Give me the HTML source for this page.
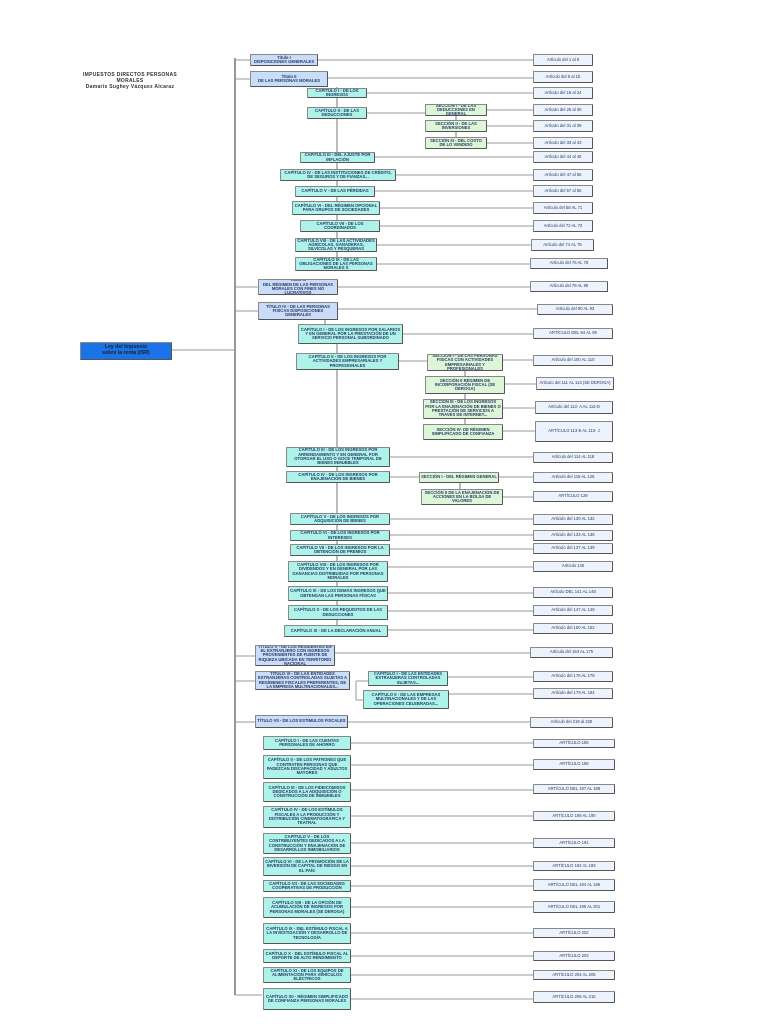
<!DOCTYPE html>
<html><head><meta charset="utf-8"><style>
html,body{margin:0;padding:0;background:#fff;width:768px;height:1024px;overflow:hidden}
body{position:relative;font-family:"Liberation Sans",sans-serif}
.b{position:absolute;box-sizing:border-box;display:flex;align-items:center;justify-content:center;text-align:center;font-size:4.2px;line-height:4.3px;font-weight:bold;color:#2a3a66;border:1px solid #888;border-right-color:#555;border-bottom-color:#555;border-radius:1px;overflow:hidden;padding:0 1px;letter-spacing:0}
.t{background:#c9dcf8}
.c{background:#aef3ea}
.s{background:#def6d8}
.a{background:#edf3fc;font-weight:normal}
.r{background:#1a73e8;color:#222;font-size:5.2px;line-height:5.6px}
svg{position:absolute;left:0;top:0}
.h{position:absolute;font-size:5px;font-weight:bold;color:#333;text-align:center;letter-spacing:0.3px}
</style></head><body>
<svg width="768" height="1024" stroke="#999" stroke-width="1" fill="none">
<line x1="235" y1="58" x2="235" y2="995" stroke="#777" stroke-width="1.5"/>
<line x1="172" y1="350" x2="235" y2="350"/>
<line x1="235" y1="60" x2="250" y2="60"/><line x1="235" y1="79" x2="250" y2="79"/>
<line x1="235" y1="287" x2="258" y2="287"/><line x1="235" y1="311" x2="258" y2="311"/>
<line x1="235" y1="656" x2="255" y2="656"/><line x1="235" y1="681" x2="255" y2="681"/>
<line x1="235" y1="722" x2="255" y2="722"/><line x1="235" y1="995" x2="262" y2="995"/>
<line x1="337" y1="87" x2="337" y2="264" stroke="#777"/>
<line x1="456" y1="110" x2="456" y2="143" stroke="#777"/>
<line x1="325" y1="320" x2="325" y2="328" stroke="#777"/>
<line x1="337" y1="344" x2="337" y2="632" stroke="#777"/>
<line x1="465" y1="362" x2="465" y2="432" stroke="#777"/>
<line x1="460" y1="478" x2="460" y2="497" stroke="#777"/>
<line x1="356" y1="681" x2="368" y2="681"/><line x1="356" y1="681" x2="356" y2="700"/><line x1="356" y1="700" x2="363" y2="700"/>
<line x1="318" y1="60" x2="533" y2="60"/><line x1="328" y1="78" x2="533" y2="78"/>
<line x1="367" y1="93" x2="533" y2="93"/><line x1="367" y1="113" x2="425" y2="113"/>
<line x1="487" y1="110" x2="533" y2="110"/><line x1="487" y1="126" x2="533" y2="126"/><line x1="487" y1="143" x2="533" y2="143"/>
<line x1="375" y1="157" x2="533" y2="157"/><line x1="396" y1="175" x2="533" y2="175"/>
<line x1="375" y1="191" x2="533" y2="191"/><line x1="380" y1="208" x2="533" y2="208"/>
<line x1="380" y1="226" x2="533" y2="226"/><line x1="377" y1="245" x2="531" y2="245"/>
<line x1="377" y1="264" x2="530" y2="264"/><line x1="338" y1="287" x2="530" y2="287"/>
<line x1="338" y1="309" x2="537" y2="309"/><line x1="403" y1="334" x2="533" y2="334"/>
<line x1="399" y1="361" x2="427" y2="361"/><line x1="503" y1="360" x2="533" y2="360"/>
<line x1="505" y1="384" x2="536" y2="384"/><line x1="503" y1="408" x2="535" y2="408"/><line x1="503" y1="431" x2="535" y2="431"/>
<line x1="390" y1="457" x2="533" y2="457"/><line x1="390" y1="477" x2="419" y2="477"/>
<line x1="499" y1="477" x2="533" y2="477"/><line x1="503" y1="497" x2="533" y2="497"/>
<line x1="390" y1="519" x2="533" y2="519"/><line x1="390" y1="535" x2="533" y2="535"/>
<line x1="390" y1="549" x2="533" y2="549"/><line x1="388" y1="567" x2="533" y2="567"/>
<line x1="388" y1="593" x2="533" y2="593"/><line x1="388" y1="611" x2="533" y2="611"/>
<line x1="388" y1="630" x2="533" y2="630"/><line x1="335" y1="653" x2="530" y2="653"/>
<line x1="448" y1="677" x2="533" y2="677"/><line x1="449" y1="694" x2="533" y2="694"/>
<line x1="348" y1="722" x2="530" y2="722"/>
<line x1="351" y1="743" x2="533" y2="743"/><line x1="351" y1="765" x2="533" y2="765"/>
<line x1="351" y1="790" x2="533" y2="790"/><line x1="351" y1="816" x2="533" y2="816"/>
<line x1="351" y1="843" x2="533" y2="843"/><line x1="351" y1="866" x2="533" y2="866"/>
<line x1="351" y1="886" x2="533" y2="886"/><line x1="351" y1="907" x2="533" y2="907"/>
<line x1="351" y1="933" x2="533" y2="933"/><line x1="351" y1="956" x2="533" y2="956"/>
<line x1="351" y1="975" x2="533" y2="975"/><line x1="351" y1="999" x2="533" y2="999"/>
</svg>
<div class="h" style="left:60px;top:72px;width:140px">IMPUESTOS DIRECTOS PERSONAS<br>MORALES</div>
<div class="h" style="left:60px;top:84px;width:140px">Damaris Sughey Vázquez Alcaraz</div>
<div class="b r" style="left:80px;top:342px;width:92px;height:18px">Ley del Impuesto<br>sobre la renta (ISR)</div>

<div class="b t" style="left:250px;top:54px;width:68px;height:12px">Titulo I<br>DISPOSICIONES GENERALES</div>
<div class="b t" style="left:250px;top:71px;width:78px;height:16px">Titulo II<br>DE LAS PERSONAS MORALES</div>
<div class="b c" style="left:307px;top:88px;width:60px;height:10px">CAPÍTULO I - DE LOS INGRESOS</div>
<div class="b c" style="left:307px;top:107px;width:60px;height:12px">CAPÍTULO II - DE LAS DEDUCCIONES</div>
<div class="b s" style="left:425px;top:104px;width:62px;height:12px">SECCIÓN I - DE LAS DEDUCCIONES EN GENERAL</div>
<div class="b s" style="left:425px;top:120px;width:62px;height:12px">SECCIÓN II - DE LAS INVERSIONES</div>
<div class="b s" style="left:425px;top:137px;width:62px;height:12px">SECCIÓN III - DEL COSTO DE LO VENDIDO</div>
<div class="b c" style="left:300px;top:152px;width:75px;height:11px">CAPÍTULO III - DEL AJUSTE POR INFLACIÓN</div>
<div class="b c" style="left:280px;top:169px;width:116px;height:12px">CAPÍTULO IV - DE LAS INSTITUCIONES DE CRÉDITO, DE SEGUROS Y DE FIANZAS...</div>
<div class="b c" style="left:295px;top:186px;width:80px;height:11px">CAPÍTULO V - DE LAS PÉRDIDAS</div>
<div class="b c" style="left:292px;top:201px;width:88px;height:14px">CAPÍTULO VI - DEL RÉGIMEN OPCIONAL PARA GRUPOS DE SOCIEDADES</div>
<div class="b c" style="left:300px;top:220px;width:80px;height:12px">CAPÍTULO VII - DE LOS COORDINADOS</div>
<div class="b c" style="left:295px;top:238px;width:82px;height:14px">CAPÍTULO VIII - DE LAS ACTIVIDADES AGRÍCOLAS, GANADERAS, SILVÍCOLAS Y PESQUERAS</div>
<div class="b c" style="left:295px;top:257px;width:82px;height:14px">CAPÍTULO IX - DE LAS OBLIGACIONES DE LAS PERSONAS MORALES S</div>
<div class="b t" style="left:258px;top:279px;width:80px;height:16px">Titulo III<br>DEL RÉGIMEN DE LAS PERSONAS MORALES CON FINES NO LUCRATIVOS</div>
<div class="b t" style="left:258px;top:302px;width:80px;height:18px">TÍTULO IV - DE LAS PERSONAS FISICAS DISPOSICIONES GENERALES</div>
<div class="b c" style="left:298px;top:324px;width:105px;height:20px">CAPÍTULO I - DE LOS INGRESOS POR SALARIOS Y EN GENERAL POR LA PRESTACIÓN DE UN SERVICIO PERSONAL SUBORDINADO</div>
<div class="b c" style="left:296px;top:353px;width:103px;height:17px">CAPÍTULO II - DE LOS INGRESOS POR ACTIVIDADES EMPRESARIALES Y PROFESIONALES</div>
<div class="b s" style="left:427px;top:354px;width:76px;height:17px">SECCIÓN I - DE LAS PERSONAS FISICAS CON ACTIVIDADES EMPRESARIALES Y PROFESIONALES</div>
<div class="b s" style="left:425px;top:376px;width:80px;height:18px">SECCIÓN II RÉGIMEN DE INCORPORACIÓN FISCAL (SE DEROGA)</div>
<div class="b s" style="left:423px;top:399px;width:80px;height:20px">SECCIÓN III - DE LOS INGRESOS POR LA ENAJENACIÓN DE BIENES O PRESTACIÓN DE SERVICIOS A TRAVÉS DE INTERNET...</div>
<div class="b s" style="left:423px;top:424px;width:80px;height:16px">SECCIÓN IV- DE RÉGIMEN SIMPLIFICADO DE CONFIANZA</div>
<div class="b c" style="left:286px;top:447px;width:104px;height:20px">CAPÍTULO III - DE LOS INGRESOS POR ARRENDAMIENTO Y EN GENERAL POR OTORGAR EL USO O GOCE TEMPORAL DE BIENES INMUEBLES</div>
<div class="b c" style="left:286px;top:471px;width:104px;height:12px">CAPÍTULO IV - DE LOS INGRESOS POR ENAJENACIÓN DE BIENES</div>
<div class="b s" style="left:419px;top:472px;width:80px;height:11px">SECCIÓN I - DEL RÉGIMEN GENERAL</div>
<div class="b s" style="left:421px;top:489px;width:82px;height:16px">SECCIÓN II DE LA ENAJENACIÓN DE ACCIONES EN LA BOLSA DE VALORES</div>
<div class="b c" style="left:290px;top:513px;width:100px;height:12px">CAPÍTULO V - DE LOS INGRESOS POR ADQUISICIÓN DE BIENES</div>
<div class="b c" style="left:290px;top:530px;width:100px;height:11px">CAPÍTULO VI - DE LOS INGRESOS POR INTERESES</div>
<div class="b c" style="left:290px;top:544px;width:100px;height:12px">CAPÍTULO VII - DE LOS INGRESOS POR LA OBTENCIÓN DE PREMIOS</div>
<div class="b c" style="left:288px;top:561px;width:100px;height:21px">CAPÍTULO VIII - DE LOS INGRESOS POR DIVIDENDOS Y EN GENERAL POR LAS GANANCIAS DISTRIBUIDAS POR PERSONAS MORALES</div>
<div class="b c" style="left:288px;top:586px;width:100px;height:15px">CAPÍTULO IX - DE LOS DEMÁS INGRESOS QUE OBTENGAN LAS PERSONAS FÍSICAS</div>
<div class="b c" style="left:288px;top:605px;width:100px;height:15px">CAPÍTULO X - DE LOS REQUISITOS DE LAS DEDUCCIONES</div>
<div class="b c" style="left:284px;top:625px;width:104px;height:12px">CAPÍTULO XI - DE LA DECLARACIÓN ANUAL</div>
<div class="b t" style="left:255px;top:645px;width:80px;height:21px">TÍTULO V - DE LOS RESIDENTES EN EL EXTRANJERO CON INGRESOS PROVENIENTES DE FUENTE DE RIQUEZA UBICADA EN TERRITORIO NACIONAL</div>
<div class="b t" style="left:255px;top:671px;width:95px;height:19px">TÍTULO VI - DE LAS ENTIDADES EXTRANJERAS CONTROLADAS SUJETAS A REGÍMENES FISCALES PREFERENTES, DE LA EMPRESA MULTINACIONALES...</div>
<div class="b c" style="left:368px;top:671px;width:80px;height:15px">CAPÍTULO I - DE LAS ENTIDADES EXTRANJERAS CONTROLADAS SUJETAS...</div>
<div class="b c" style="left:363px;top:690px;width:86px;height:19px">CAPÍTULO II - DE LAS EMPRESAS MULTINACIONALES Y DE LAS OPERACIONES CELEBRADAS...</div>
<div class="b t" style="left:255px;top:715px;width:93px;height:13px">TÍTULO VII - DE LOS ESTÍMULOS FISCALES</div>
<div class="b c" style="left:263px;top:736px;width:88px;height:14px">CAPÍTULO I - DE LAS CUENTAS PERSONALES DE AHORRO</div>
<div class="b c" style="left:263px;top:755px;width:88px;height:24px">CAPÍTULO II - DE LOS PATRONES QUE CONTRATEN PERSONAS QUE PADEZCAN DISCAPACIDAD Y ADULTOS MAYORES</div>
<div class="b c" style="left:263px;top:782px;width:88px;height:20px">CAPÍTULO III - DE LOS FIDEICOMISOS DEDICADOS A LA ADQUISICIÓN O CONSTRUCCIÓN DE INMUEBLES</div>
<div class="b c" style="left:263px;top:806px;width:88px;height:22px">CAPÍTULO IV - DE LOS ESTÍMULOS FISCALES A LA PRODUCCIÓN Y DISTRIBUCIÓN CINEMATOGRÁFICA Y TEATRAL</div>
<div class="b c" style="left:263px;top:833px;width:88px;height:21px">CAPÍTULO V - DE LOS CONTRIBUYENTES DEDICADOS A LA CONSTRUCCIÓN Y ENAJENACIÓN DE DESARROLLOS INMOBILIARIOS</div>
<div class="b c" style="left:263px;top:857px;width:88px;height:19px">CAPÍTULO VI - DE LA PROMOCIÓN DE LA INVERSIÓN DE CAPITAL DE RIESGO EN EL PAÍS</div>
<div class="b c" style="left:263px;top:880px;width:88px;height:12px">CAPÍTULO VII - DE LAS SOCIEDADES COOPERATIVAS DE PRODUCCIÓN</div>
<div class="b c" style="left:263px;top:897px;width:88px;height:21px">CAPÍTULO VIII - DE LA OPCIÓN DE ACUMULACIÓN DE INGRESOS POR PERSONAS MORALES (SE DEROGA)</div>
<div class="b c" style="left:263px;top:923px;width:88px;height:21px">CAPÍTULO IX - DEL ESTÍMULO FISCAL A LA INVESTIGACIÓN Y DESARROLLO DE TECNOLOGÍA</div>
<div class="b c" style="left:263px;top:949px;width:88px;height:14px">CAPÍTULO X - DEL ESTÍMULO FISCAL AL DEPORTE DE ALTO RENDIMIENTO</div>
<div class="b c" style="left:263px;top:967px;width:88px;height:16px">CAPÍTULO XI - DE LOS EQUIPOS DE ALIMENTACIÓN PARA VEHÍCULOS ELÉCTRICOS</div>
<div class="b c" style="left:263px;top:988px;width:88px;height:22px">CAPÍTULO XII - RÉGIMEN SIMPLIFICADO DE CONFIANZA PERSONAS MORALES</div>

<div class="b a" style="left:533px;top:54px;width:60px;height:12px">Artículo del 1 al 8</div>
<div class="b a" style="left:533px;top:71px;width:60px;height:12px">Artículo del 9 al 15</div>
<div class="b a" style="left:533px;top:87px;width:60px;height:12px">Artículo del 16 al 24</div>
<div class="b a" style="left:533px;top:104px;width:60px;height:12px">Artículo del 25 al 30</div>
<div class="b a" style="left:533px;top:120px;width:60px;height:12px">Artículo del 31 al 39</div>
<div class="b a" style="left:533px;top:137px;width:60px;height:12px">Artículo del 33 al 43</div>
<div class="b a" style="left:533px;top:151px;width:60px;height:12px">Artículo del 44 al 46</div>
<div class="b a" style="left:533px;top:169px;width:60px;height:12px">Artículo del 47 al 56</div>
<div class="b a" style="left:533px;top:185px;width:60px;height:12px">Artículo del 57 al 56</div>
<div class="b a" style="left:533px;top:202px;width:60px;height:12px">Artículo del 58 AL 71</div>
<div class="b a" style="left:533px;top:220px;width:60px;height:12px">Artículo del 72 AL 73</div>
<div class="b a" style="left:531px;top:239px;width:63px;height:12px">Artículo del 74 AL 75</div>
<div class="b a" style="left:530px;top:258px;width:78px;height:11px">Artículo del 76 AL 78</div>
<div class="b a" style="left:530px;top:281px;width:78px;height:11px">Artículo del 79 AL 89</div>
<div class="b a" style="left:537px;top:304px;width:76px;height:11px">Artículo del 90 AL 93</div>
<div class="b a" style="left:533px;top:328px;width:80px;height:11px">ARTÍCULO DEL 94 AL 99</div>
<div class="b a" style="left:533px;top:355px;width:80px;height:11px">Artículo del 100 AL 110</div>
<div class="b a" style="left:536px;top:377px;width:78px;height:13px">Artículo del 111 AL 113 (SE DEROGA)</div>
<div class="b a" style="left:535px;top:401px;width:78px;height:13px">Artículo del 113- A AL 113-D</div>
<div class="b a" style="left:535px;top:421px;width:78px;height:21px">ARTÍCULO 113-E AL 113- J</div>
<div class="b a" style="left:533px;top:452px;width:80px;height:11px">Artículo del 114 AL 118</div>
<div class="b a" style="left:533px;top:472px;width:80px;height:11px">Artículo del 119 AL 128</div>
<div class="b a" style="left:533px;top:491px;width:80px;height:11px">ARTÍCULO 129</div>
<div class="b a" style="left:533px;top:514px;width:80px;height:11px">Artículo del 130 AL 132</div>
<div class="b a" style="left:533px;top:530px;width:80px;height:11px">Artículo del 133 AL 136</div>
<div class="b a" style="left:533px;top:543px;width:80px;height:11px">Artículo del 137 AL 139</div>
<div class="b a" style="left:533px;top:561px;width:80px;height:11px">Artículo 140</div>
<div class="b a" style="left:533px;top:587px;width:80px;height:11px">Artículo DEL 141 AL 146</div>
<div class="b a" style="left:533px;top:605px;width:80px;height:11px">Artículo del 147 AL 149</div>
<div class="b a" style="left:533px;top:623px;width:80px;height:11px">Artículo del 150 AL 152</div>
<div class="b a" style="left:530px;top:647px;width:83px;height:11px">Artículo del 153 AL 175</div>
<div class="b a" style="left:533px;top:671px;width:80px;height:11px">Artículo del 176 AL 178</div>
<div class="b a" style="left:533px;top:688px;width:80px;height:11px">Artículo del 179 AL 184</div>
<div class="b a" style="left:530px;top:717px;width:83px;height:11px">Artículo del 218 al 228</div>
<div class="b a" style="left:533px;top:739px;width:82px;height:9px">ARTÍCULO 185</div>
<div class="b a" style="left:533px;top:759px;width:82px;height:11px">ARTÍCULO 186</div>
<div class="b a" style="left:533px;top:784px;width:82px;height:10px">ARTÍCULO DEL 187 AL 188</div>
<div class="b a" style="left:533px;top:811px;width:82px;height:10px">ARTÍCULO 189 AL 190</div>
<div class="b a" style="left:533px;top:838px;width:82px;height:10px">ARTÍCULO 191</div>
<div class="b a" style="left:533px;top:861px;width:82px;height:10px">ARTÍCULO 192 AL 193</div>
<div class="b a" style="left:533px;top:879px;width:82px;height:12px">ARTÍCULO DEL 194 AL 195</div>
<div class="b a" style="left:533px;top:901px;width:82px;height:12px">ARTÍCULO DEL 196 AL 201</div>
<div class="b a" style="left:533px;top:928px;width:82px;height:10px">ARTÍCULO 202</div>
<div class="b a" style="left:533px;top:951px;width:82px;height:10px">ARTÍCULO 203</div>
<div class="b a" style="left:533px;top:970px;width:82px;height:10px">ARTÍCULO 204 AL 205</div>
<div class="b a" style="left:533px;top:991px;width:82px;height:12px">ARTÍCULO 206 AL 215</div>
</body></html>
